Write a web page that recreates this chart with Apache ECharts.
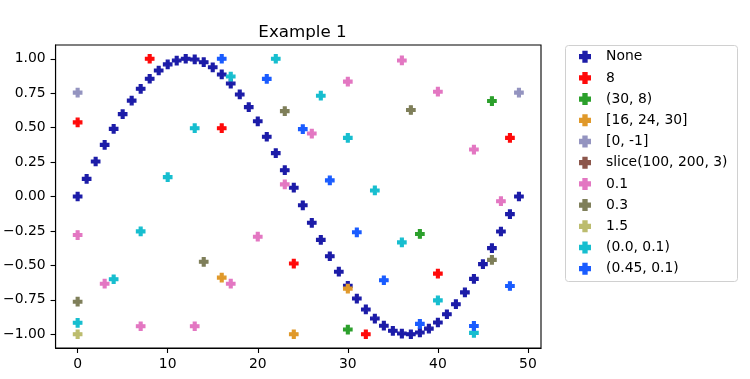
<!DOCTYPE html>
<html>
<head>
<meta charset="utf-8">
<script src="https://cdn.jsdelivr.net/npm/echarts@6/dist/echarts.min.js"></script>
<style>html,body{margin:0;padding:0;background:#fff}#c{width:750px;height:379px}</style>
</head>
<body>
<div id="c"></div>
<script>
// Legend labels
const seriesNames = ['None', '8', '(30, 8)', '[16, 24, 30]', '[0, -1]', 'slice(100, 200, 3)', '0.1', '0.3', '1.5', '(0.0, 0.1)', '(0.45, 0.1)'];
const seriesColors = ['#1c1ca8', '#ff0a0a', '#2ca02c', '#e0992a', '#9494c0', '#8c564b', '#e377c2', '#7f7f5a', '#bcbc6e', '#17becf', '#1a5cff'];

// x indices and y values
const xNone = [0,1,2,3,4,5,6,7,8,9,10,11,12,13,14,15,16,17,18,19,20,21,22,23,24,25,26,27,28,29,30,31,32,33,34,35,36,37,38,39,40,41,42,43,44,45,46,47,48,49];
const yNone = [0.0,0.128,0.254,0.375,0.491,0.598,0.696,0.782,0.855,0.915,0.959,0.987,1.0,0.995,0.975,0.938,0.886,0.82,0.741,0.649,0.546,0.434,0.315,0.191,0.064,-0.064,-0.191,-0.315,-0.434,-0.546,-0.649,-0.741,-0.82,-0.886,-0.938,-0.975,-0.995,-1.0,-0.987,-0.959,-0.915,-0.855,-0.782,-0.696,-0.598,-0.491,-0.375,-0.254,-0.128,0.0];

const x8 = [0, 8, 16, 24, 32, 40, 48];
const y8 = [0.538, 1.0, 0.496, -0.487, -1.0, -0.56, 0.426];

const x30_8 = [30, 38, 46];
const y30_8 = [-0.966, -0.272, 0.693];

const xList = [16, 24, 30];
const yList = [-0.589, -1.0, -0.669];

const xEnds = [0, 49];
const yEnds = [0.754, 0.754];

const xSlice = [];
const ySlice = [];

const x01 = [0, 3, 7, 13, 17, 20, 23, 26, 30, 36, 40, 44, 47];
const y01 = [-0.28, -0.633, -0.942, -0.942, -0.633, -0.292, 0.088, 0.457, 0.834, 0.988, 0.761, 0.341, -0.034];

const x03 = [0, 14, 23, 37, 46];
const y03 = [-0.764, -0.474, 0.62, 0.628, -0.46];

const x15 = [0];
const y15 = [-1.0];

const x00_01 = [0, 4, 7, 10, 13, 17, 22, 27, 30, 33, 36, 40, 44];
const y00_01 = [-0.917, -0.601, -0.253, 0.141, 0.496, 0.871, 1.0, 0.732, 0.426, 0.044, -0.333, -0.754, -0.99];

const x045_01 = [16, 21, 25, 28, 31, 34, 38, 44, 48];
const y045_01 = [1.0, 0.854, 0.489, 0.117, -0.26, -0.608, -0.925, -0.94, -0.65];

const xTicks = [0, 10, 20, 30, 40, 50];
const yTicks = [-1.0, -0.75, -0.5, -0.25, 0.0, 0.25, 0.5, 0.75, 1.0];

const allX = [xNone, x8, x30_8, xList, xEnds, xSlice, x01, x03, x15, x00_01, x045_01];
const allY = [yNone, y8, y30_8, yList, yEnds, ySlice, y01, y03, y15, y00_01, y045_01];

const PLUS = 'path://M1,0H2V1H3V2H2V3H1V2H0V1H1Z';
const FONT = 'DejaVu Sans';

const chart = echarts.init(document.getElementById('c'), null, {renderer: 'canvas'});
const series = seriesNames.map((name, i) => ({
  name: name,
  type: 'scatter',
  symbol: PLUS,
  symbolSize: 8.4,
  itemStyle: {color: seriesColors[i], opacity: 1, borderColor: seriesColors[i], borderWidth: 1.3},
  data: allX[i].map((x, k) => [x, allY[i][k]]),
  animation: false
}));

chart.setOption({
  animation: false,
  title: {
    text: 'Example 1',
    left: 297.5,
    textAlign: 'center',
    top: 19,
    textStyle: {fontFamily: FONT, fontSize: 16.7, fontWeight: 'normal', color: '#000'}
  },
  grid: {left: 54, right: 209, top: 45, bottom: 31, show: true, borderColor: '#000', borderWidth: 1.1, backgroundColor: 'transparent'},
  xAxis: {
    type: 'value', min: -2.45, max: 51.45,
    axisLine: {show: true, onZero: false, lineStyle: {color: '#000', width: 1.1}},
    axisTick: {show: true, length: 5, lineStyle: {color: '#000', width: 1.1}, customValues: xTicks},
    axisLabel: {show: true, margin: 9, color: '#000', fontFamily: FONT, fontSize: 13.9, customValues: xTicks, formatter: v => String(v)},
    splitLine: {show: false}
  },
  yAxis: {
    type: 'value', min: -1.1, max: 1.1,
    axisLine: {show: true, onZero: false, lineStyle: {color: '#000', width: 1.1}},
    axisTick: {show: true, length: 5, lineStyle: {color: '#000', width: 1.1}, customValues: yTicks},
    axisLabel: {show: true, margin: 10, color: '#000', fontFamily: FONT, fontSize: 13.9, customValues: yTicks,
      formatter: v => (v < 0 ? '\u2212' : '') + Math.abs(v).toFixed(2)},
    splitLine: {show: false}
  },
  legend: {
    orient: 'vertical',
    left: 579,
    top: 48.7,
    padding: 0,
    itemWidth: 10,
    itemHeight: 10,
    itemGap: 5.2,
    icon: PLUS,
    data: seriesNames,
    textStyle: {fontFamily: FONT, fontSize: 13.9, color: '#000', lineHeight: 16, padding: [0, 0, 0, 11]}
  },
  graphic: [{
    type: 'rect',
    shape: {x: 565.5, y: 45.5, width: 172, height: 236, r: 3},
    style: {fill: 'none', stroke: '#d0d0d0', lineWidth: 1},
    silent: true
  }],
  series: series
});
</script>
</body>
</html>
